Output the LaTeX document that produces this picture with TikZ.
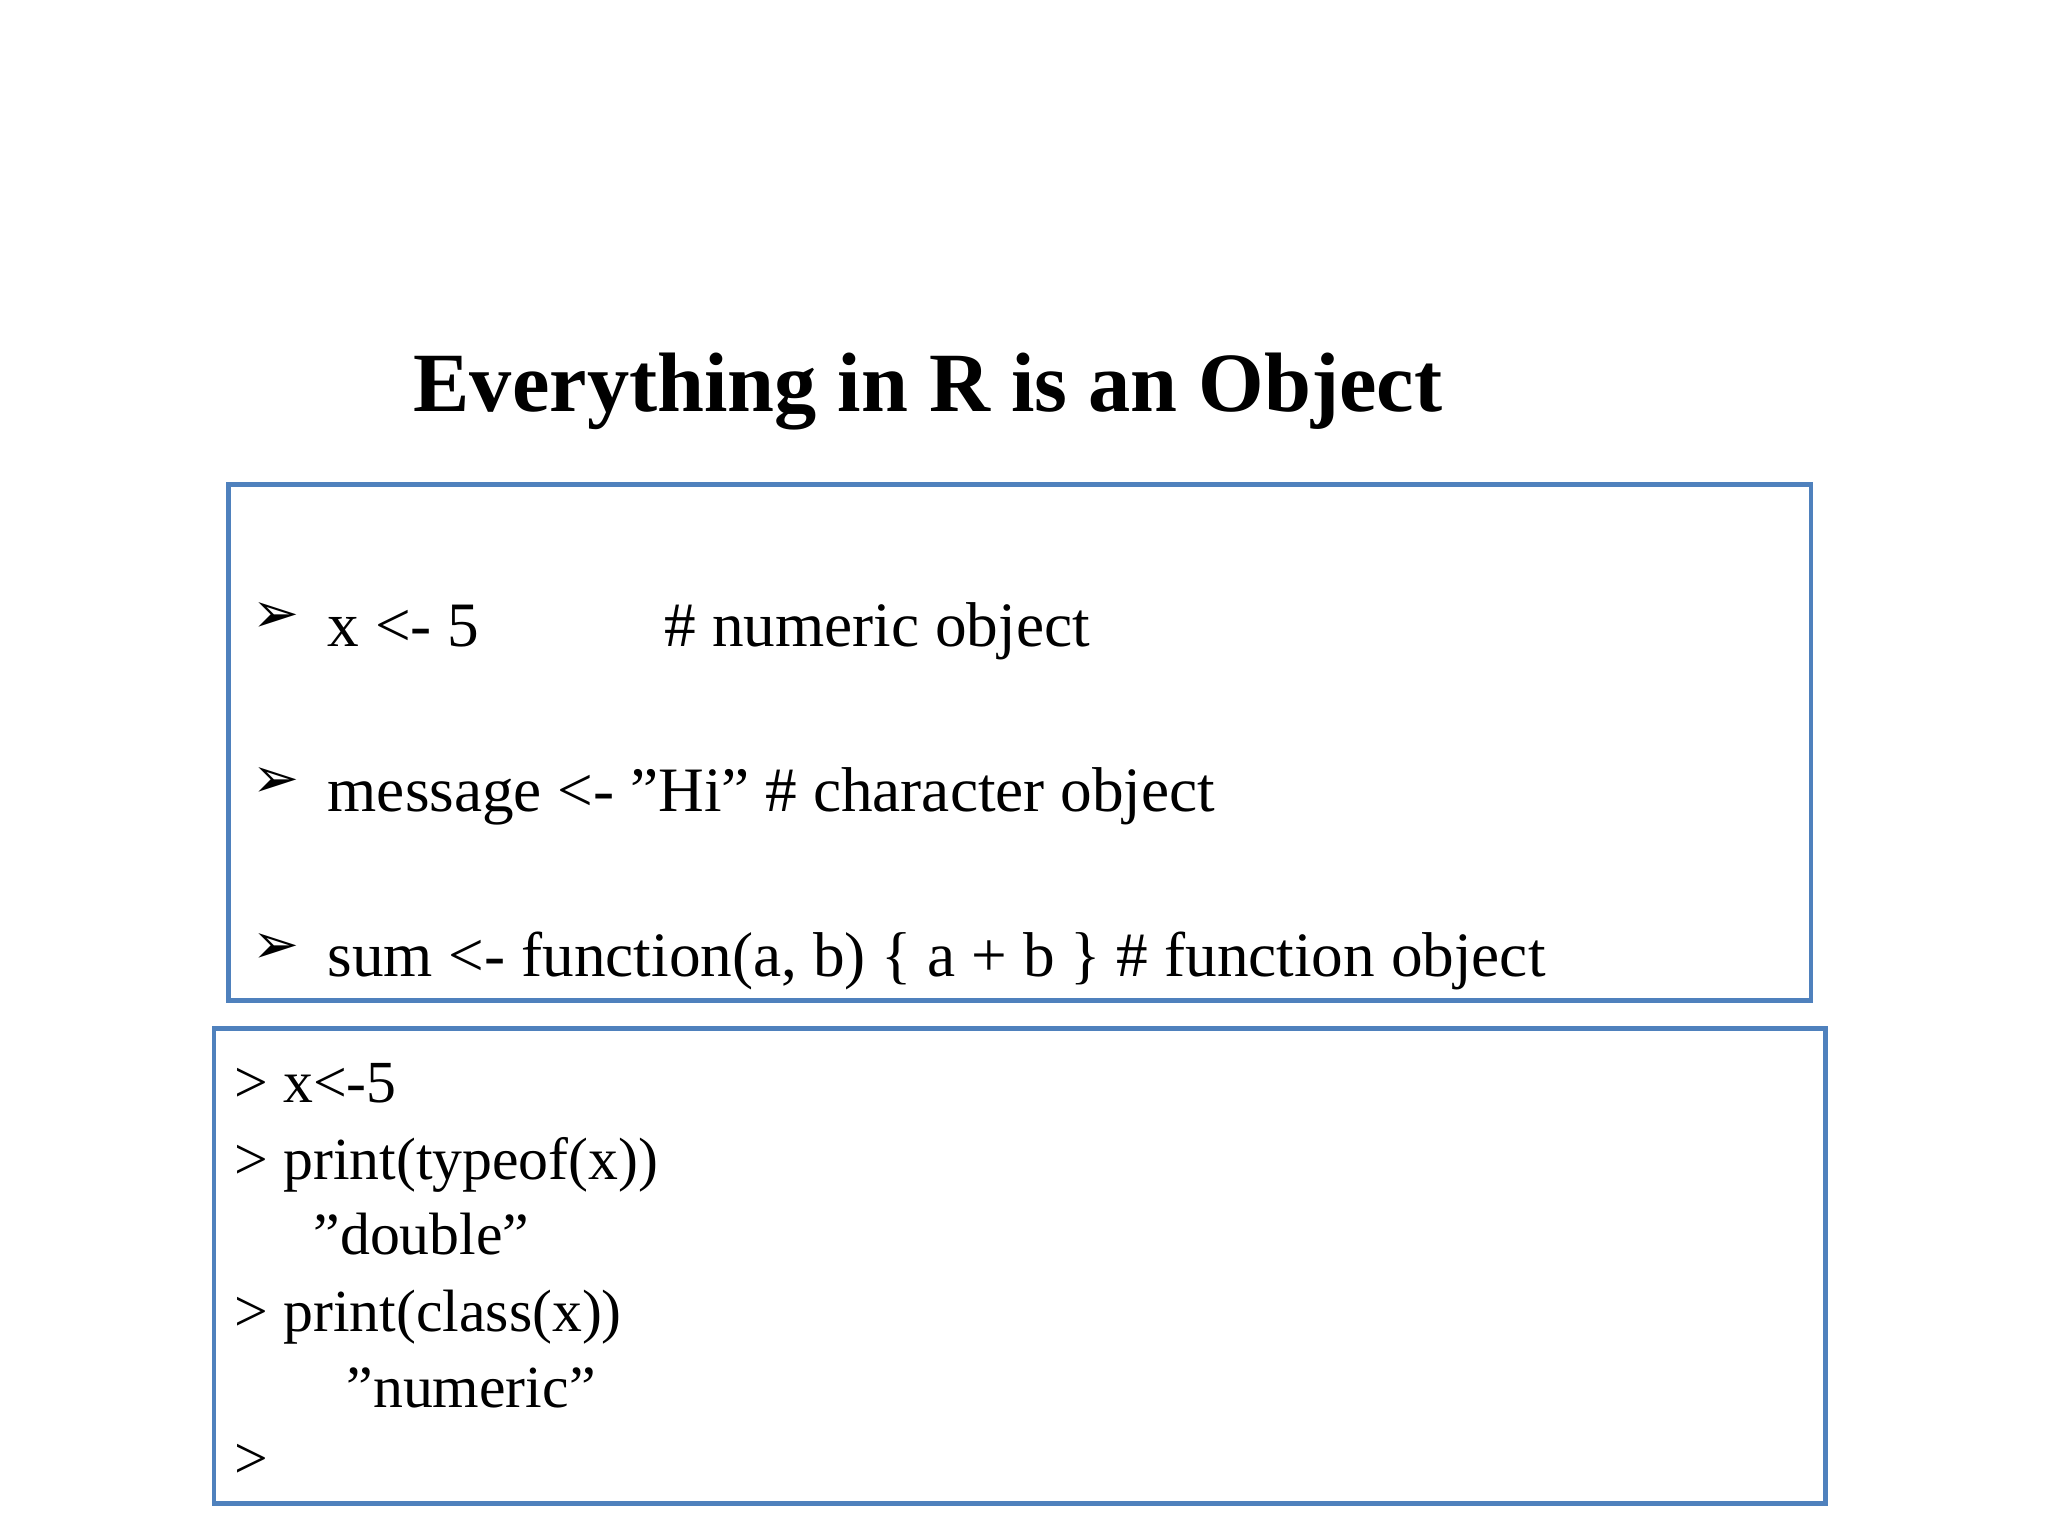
\documentclass[tikz,border=0pt]{standalone}
\usepackage{fontspec}
\setmainfont{Liberation Serif}
\newfontfamily\djv{DejaVu Sans}
\begin{document}
\begin{tikzpicture}
\useasboundingbox[fill=white] (0,0) rectangle (20.48,-15.36);
\tikzset{panel/.style={draw=blue!45!black!60!cyan!60!blue, line width=1.3pt},
 bodytext/.style={anchor=base west, inner sep=0pt, font=\fontsize{18}{20}\selectfont},
 codetext/.style={anchor=base west, inner sep=0pt, font=\fontsize{17}{19}\selectfont},
 bul/.style={anchor=base west, inner sep=0pt, font=\djv\fontsize{16}{18}\selectfont}}
\definecolor{panelblue}{HTML}{4F81BD}
\node[anchor=base, inner sep=0pt, font=\bfseries\fontsize{24}{28}\selectfont] (title) at (9.28,-4.12) {Everything in R is an Object};
\draw[draw=panelblue, line width=1.3pt] (2.284,-4.844) rectangle (18.11,-10.006);
\draw[draw=panelblue, line width=1.3pt] (2.138,-10.283) rectangle (18.256,-15.035);
\node[bul] (b1) at (2.52,-6.33) {➢};
\node[bul] (b2) at (2.52,-7.98) {➢};
\node[bul] (b3) at (2.52,-9.63) {➢};
\node[bodytext] (t1) at (3.27,-6.47) {x <- 5};
\node[bodytext] (t1c) at (6.64,-6.47) {\# numeric object};
\node[bodytext] (t2) at (3.27,-8.12) {message <- "Hi" \# character object};
\node[bodytext] (t3) at (3.27,-9.77) {sum <- function(a, b) \{ a + b \} \# function object};
\node[codetext] (c1) at (2.34,-11.02) {> x<-5};
\node[codetext] (c2) at (2.34,-11.79) {> print(typeof(x))};
\node[codetext] (c3) at (3.13,-12.54) {"double"};
\node[codetext] (c4) at (2.34,-13.31) {> print(class(x))};
\node[codetext] (c5) at (3.46,-14.07) {"numeric"};
\node[codetext] (c6) at (2.34,-14.78) {>};
\end{tikzpicture}
\end{document}
